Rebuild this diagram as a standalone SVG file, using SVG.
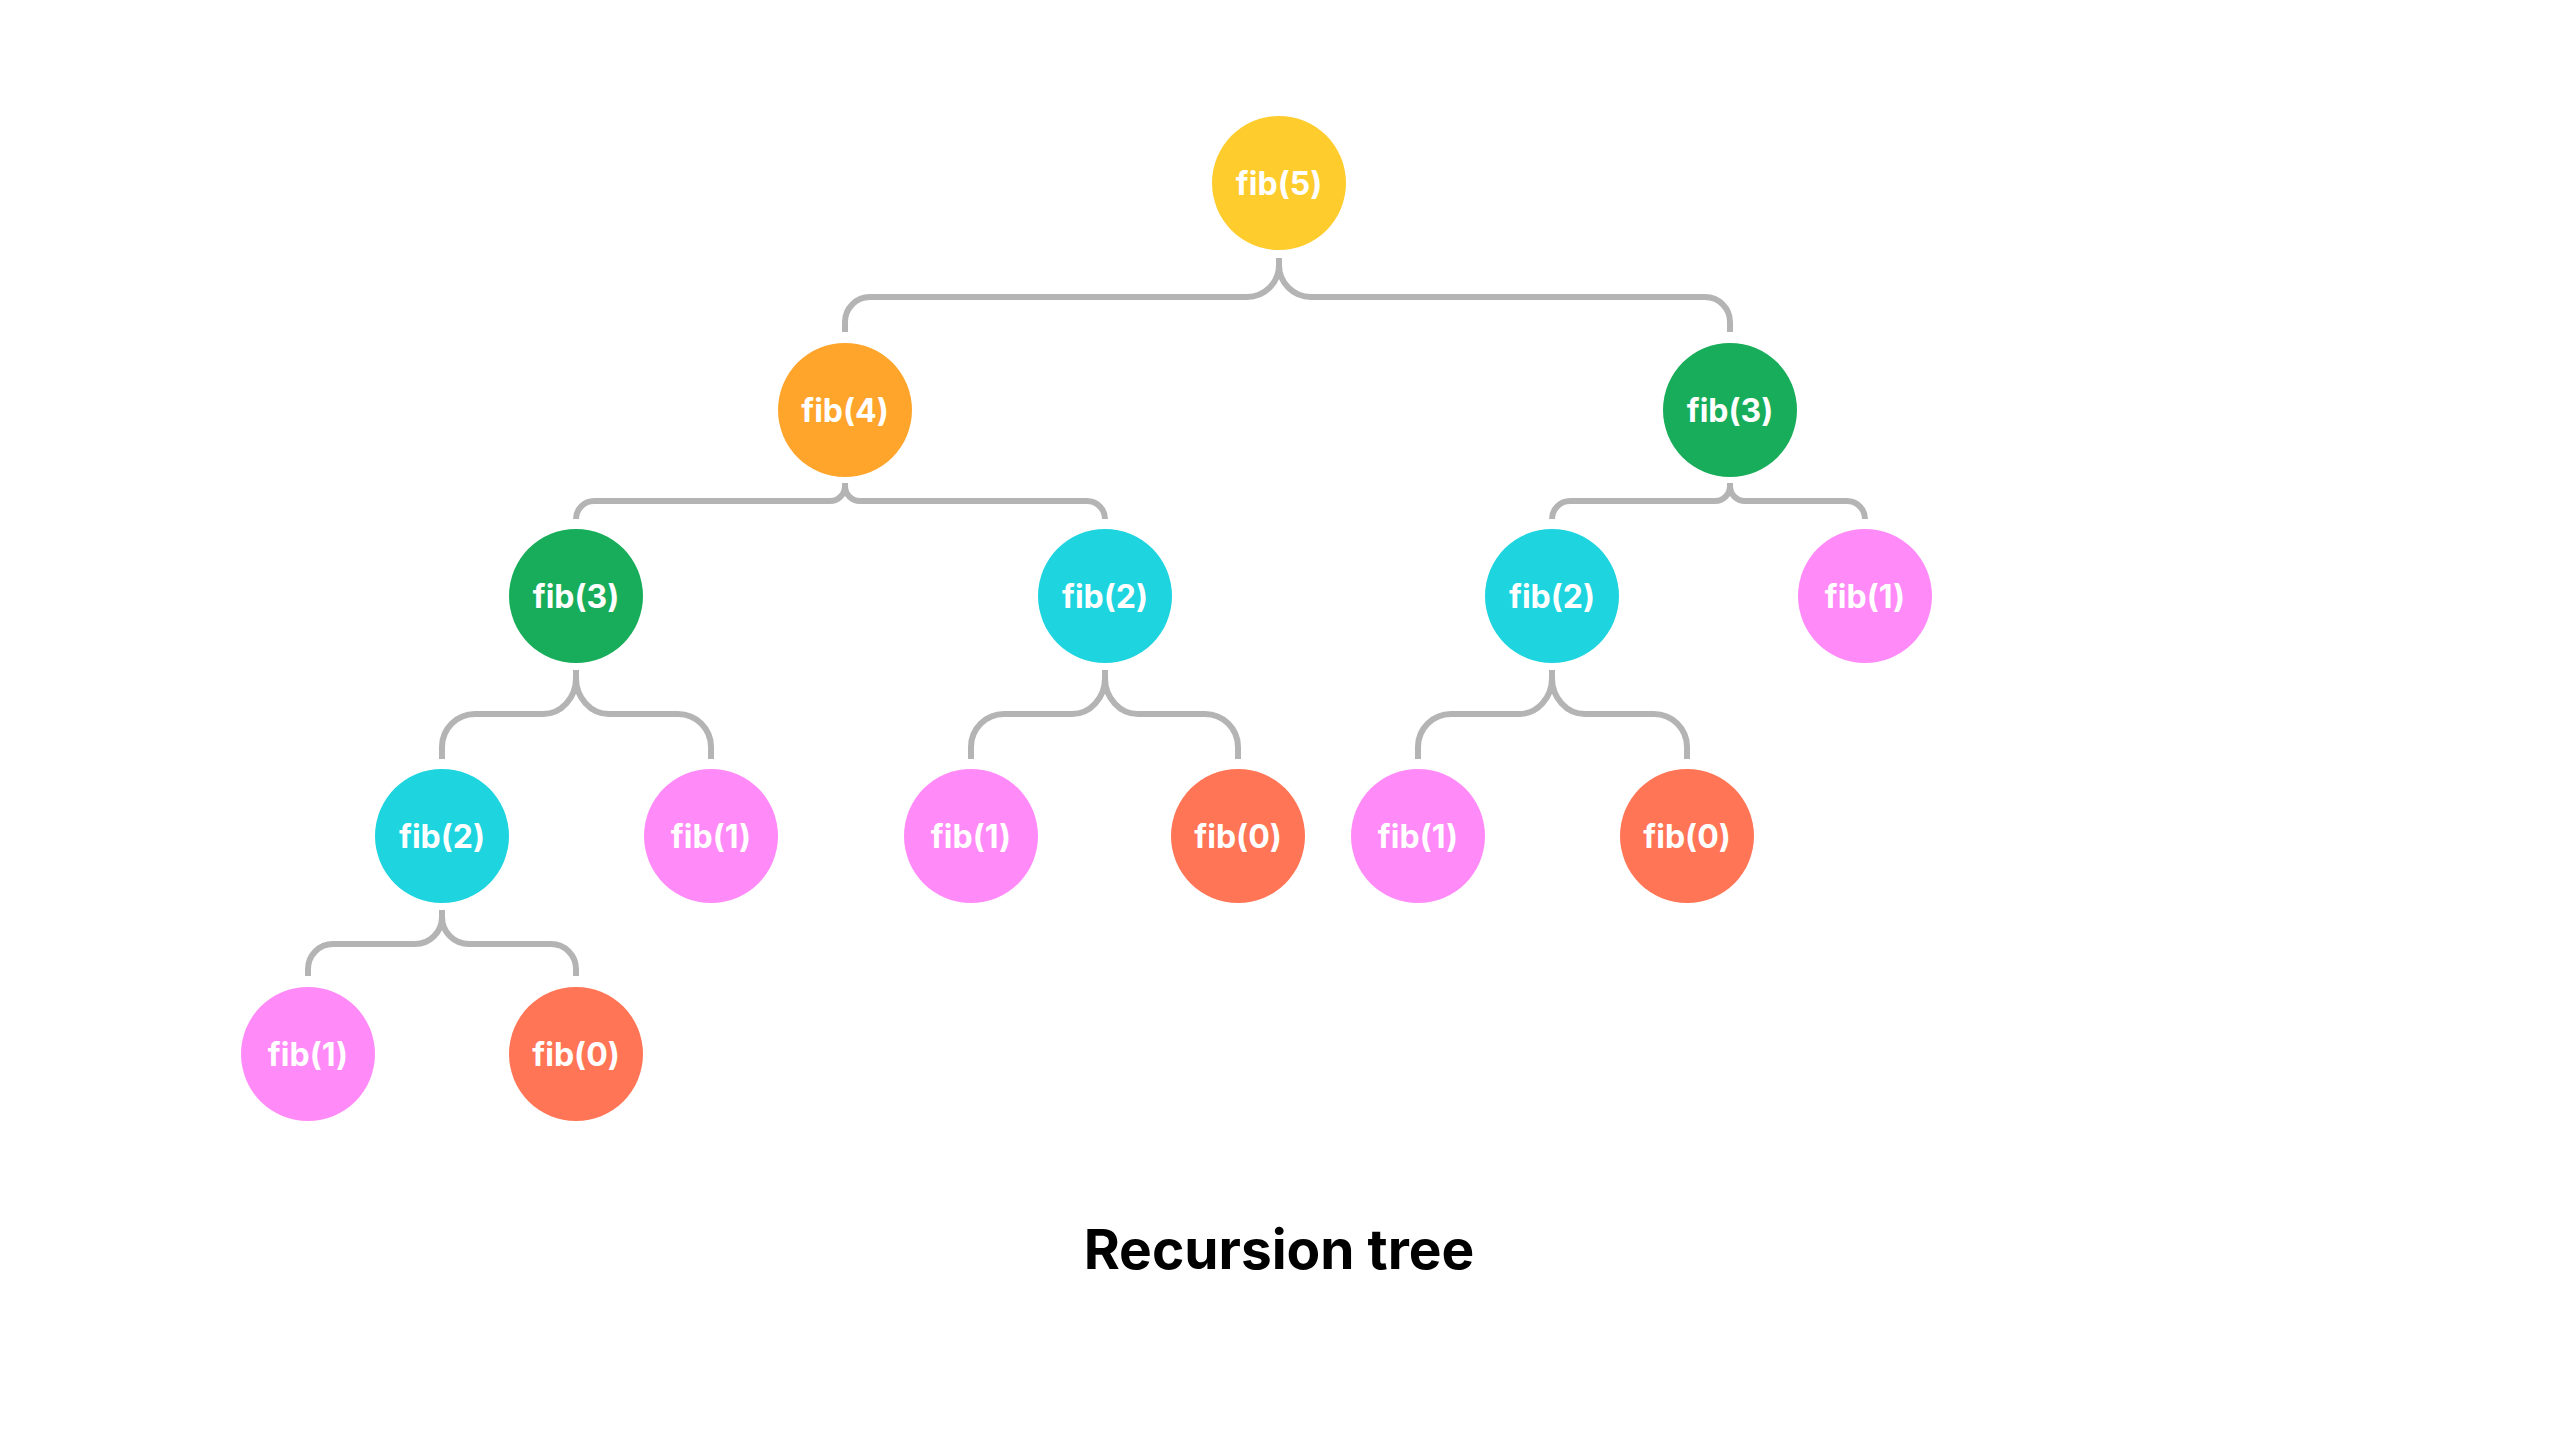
<svg xmlns="http://www.w3.org/2000/svg" width="2560" height="1440" viewBox="0 0 2560 1440">
<style>
.n text{font-family:Inter,"Liberation Sans",sans-serif;font-weight:700;font-size:32px;fill:#fff;text-anchor:middle;dominant-baseline:central}
.c path{fill:none;stroke:#b4b4b4;stroke-width:6}
.y{fill:#fecd2d}.o{fill:#ffa52b}.g{fill:#18ad5a}.cy{fill:#1dd4df}.p{fill:#ff8af8}.r{fill:#ff7556}
</style>
<rect width="2560" height="1440" fill="#fff"/>
<g class="c" id="connectors">
<path d="M1279 258 V265 A32 32 0 0 1 1247 297 H870 A25 25 0 0 0 845 322 V332"/>
<path d="M1279 258 V265 A32 32 0 0 0 1311 297 H1705 A25 25 0 0 1 1730 322 V332"/>
<path d="M845 483 V486 A15 15 0 0 1 830 501 H594 A18 18 0 0 0 576 519 V519"/>
<path d="M845 483 V486 A15 15 0 0 0 860 501 H1087 A18 18 0 0 1 1105 519 V519"/>
<path d="M1730 483 V486 A15 15 0 0 1 1715 501 H1570 A18 18 0 0 0 1552 519 V519"/>
<path d="M1730 483 V486 A15 15 0 0 0 1745 501 H1847 A18 18 0 0 1 1865 519 V519"/>
<path d="M576 670 V678 A33 36 0 0 1 543 714 H475 A33 33 0 0 0 442 747 V759"/>
<path d="M576 670 V678 A33 36 0 0 0 609 714 H678 A33 33 0 0 1 711 747 V759"/>
<path d="M1105 670 V678 A33 36 0 0 1 1072 714 H1004 A33 33 0 0 0 971 747 V759"/>
<path d="M1105 670 V678 A33 36 0 0 0 1138 714 H1205 A33 33 0 0 1 1238 747 V759"/>
<path d="M1552 670 V678 A33 36 0 0 1 1519 714 H1451 A33 33 0 0 0 1418 747 V759"/>
<path d="M1552 670 V678 A33 36 0 0 0 1585 714 H1654 A33 33 0 0 1 1687 747 V759"/>
<path d="M442 910 V917 A27 27 0 0 1 415 944 H333 A25 25 0 0 0 308 969 V976"/>
<path d="M442 910 V917 A27 27 0 0 0 469 944 H551 A25 25 0 0 1 576 969 V976"/>
</g>
<g class="n" id="n-fib5"><circle class="y" cx="1279" cy="183" r="67"/><text x="1279" y="183">fib(5)</text></g>
<g class="n" id="n-fib4"><circle class="o" cx="845" cy="410" r="67"/><text x="845" y="410">fib(4)</text></g>
<g class="n" id="n-fib3a"><circle class="g" cx="1730" cy="410" r="67"/><text x="1730" y="410">fib(3)</text></g>
<g class="n" id="n-fib3b"><circle class="g" cx="576" cy="596" r="67"/><text x="576" y="596">fib(3)</text></g>
<g class="n" id="n-fib2a"><circle class="cy" cx="1105" cy="596" r="67"/><text x="1105" y="596">fib(2)</text></g>
<g class="n" id="n-fib2b"><circle class="cy" cx="1552" cy="596" r="67"/><text x="1552" y="596">fib(2)</text></g>
<g class="n" id="n-fib1a"><circle class="p" cx="1865" cy="596" r="67"/><text x="1865" y="596">fib(1)</text></g>
<g class="n" id="n-fib2c"><circle class="cy" cx="442" cy="836" r="67"/><text x="442" y="836">fib(2)</text></g>
<g class="n" id="n-fib1b"><circle class="p" cx="711" cy="836" r="67"/><text x="711" y="836">fib(1)</text></g>
<g class="n" id="n-fib1c"><circle class="p" cx="971" cy="836" r="67"/><text x="971" y="836">fib(1)</text></g>
<g class="n" id="n-fib0a"><circle class="r" cx="1238" cy="836" r="67"/><text x="1238" y="836">fib(0)</text></g>
<g class="n" id="n-fib1d"><circle class="p" cx="1418" cy="836" r="67"/><text x="1418" y="836">fib(1)</text></g>
<g class="n" id="n-fib0b"><circle class="r" cx="1687" cy="836" r="67"/><text x="1687" y="836">fib(0)</text></g>
<g class="n" id="n-fib1e"><circle class="p" cx="308" cy="1054" r="67"/><text x="308" y="1054">fib(1)</text></g>
<g class="n" id="n-fib0c"><circle class="r" cx="576" cy="1054" r="67"/><text x="576" y="1054">fib(0)</text></g>
<text id="title" x="1279" y="1269" font-family="Inter,'Liberation Sans',sans-serif" font-weight="700" font-size="55" text-anchor="middle" fill="#000">Recursion tree</text>
</svg>
